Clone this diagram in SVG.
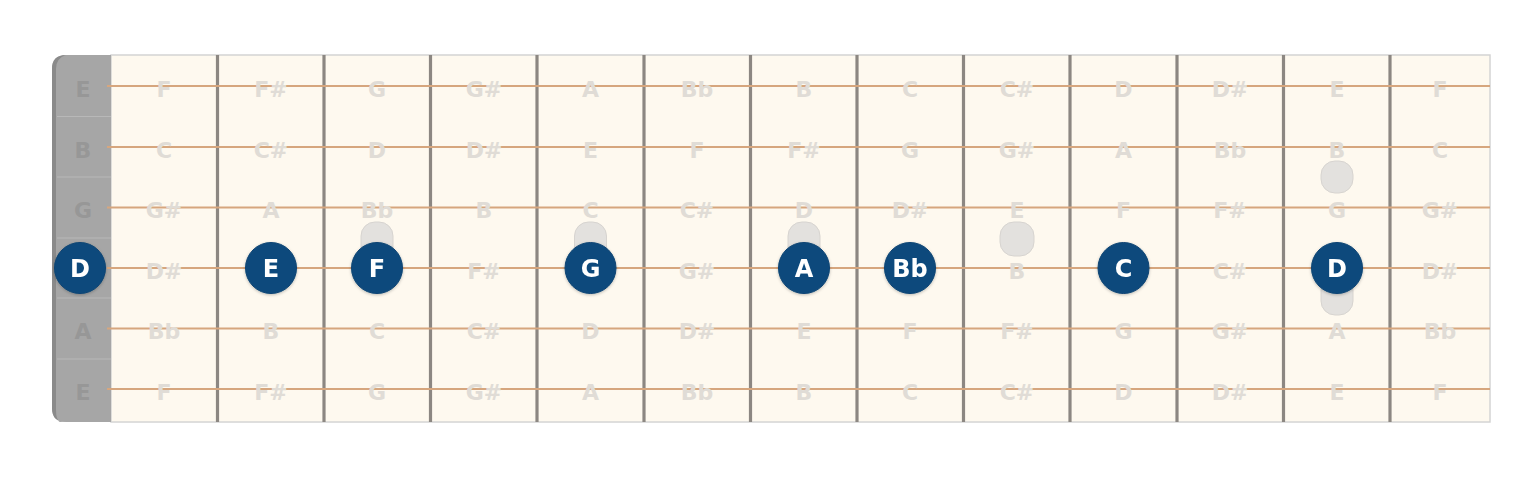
<svg xmlns="http://www.w3.org/2000/svg" width="1536" height="485" viewBox="0 0 1536 485">
<style>
.fret{stroke:#8c8782;stroke-width:3.2}
.str{stroke:#d6a67e;stroke-width:1.8}
.sep{stroke:#b8b8b8;stroke-width:1}
.nt{font-family:"DejaVu Sans",Verdana,sans-serif;font-weight:bold;font-size:22px;fill:#e0dcd6;text-anchor:middle;dominant-baseline:central}
.nut{font-family:"DejaVu Sans",Verdana,sans-serif;font-weight:bold;font-size:22px;fill:#979797;text-anchor:middle;dominant-baseline:central}
.ghost{fill:#e3e1de;stroke:#d7d4d0;stroke-width:1}
.dot{fill:#0b4a7c;stroke:#0a4373;stroke-width:1}
.lbl{font-family:"DejaVu Sans",Verdana,sans-serif;font-weight:bold;font-size:24px;fill:#ffffff;text-anchor:middle;dominant-baseline:central}
</style>
<defs>
<filter id="sh" x="-30%" y="-30%" width="160%" height="160%"><feDropShadow dx="0" dy="1" stdDeviation="1.5" flood-color="#000" flood-opacity="0.25"/></filter>
</defs>
<rect width="1536" height="485" fill="#ffffff"/>
<g id="board">
<rect x="111" y="55" width="1379" height="367" fill="#fef9ef" stroke="#d4d4d4" stroke-width="1.5"/>
<path d="M111 55 H66 Q52 55 52 69 V408 Q52 422 66 422 H111 Z" fill="#a6a6a6"/>
<path d="M66 55 Q52 55 52 69 V408 Q52 422 66 422 H60 Q56 420 56 410 V69 Q56 58 66 55 Z" fill="#8a8a8a"/>
<g class="sep">
<line x1="57" y1="116.5" x2="111" y2="116.5"/><line x1="57" y1="177" x2="111" y2="177"/><line x1="57" y1="238" x2="111" y2="238"/><line x1="57" y1="298" x2="111" y2="298"/><line x1="57" y1="359" x2="111" y2="359"/>
</g>
</g>
<g id="frets" class="fret">
<line x1="217.5" y1="55" x2="217.5" y2="422"/><line x1="324" y1="55" x2="324" y2="422"/><line x1="430.5" y1="55" x2="430.5" y2="422"/><line x1="537" y1="55" x2="537" y2="422"/><line x1="644" y1="55" x2="644" y2="422"/><line x1="750.5" y1="55" x2="750.5" y2="422"/><line x1="857" y1="55" x2="857" y2="422"/><line x1="963.5" y1="55" x2="963.5" y2="422"/><line x1="1070" y1="55" x2="1070" y2="422"/><line x1="1177" y1="55" x2="1177" y2="422"/><line x1="1283.5" y1="55" x2="1283.5" y2="422"/><line x1="1390" y1="55" x2="1390" y2="422"/>
</g>
<g id="strings" class="str">
<line x1="107" y1="86" x2="1490" y2="86"/><line x1="107" y1="147" x2="1490" y2="147"/><line x1="107" y1="207.5" x2="1490" y2="207.5"/><line x1="107" y1="268" x2="1490" y2="268"/><line x1="107" y1="328.5" x2="1490" y2="328.5"/><line x1="107" y1="389" x2="1490" y2="389"/>
</g>
<g id="nut-labels" class="nut">
<text x="83" y="89">E</text><text x="83" y="150">B</text><text x="83" y="210.5">G</text><text x="83" y="331.5">A</text><text x="83" y="392">E</text>
</g>
<g id="note-labels" class="nt">
<g id="s1"><text x="164" y="89">F</text><text x="271" y="89">F#</text><text x="377" y="89">G</text><text x="484" y="89">G#</text><text x="590.5" y="89">A</text><text x="697" y="89">Bb</text><text x="804" y="89">B</text><text x="910" y="89">C</text><text x="1017" y="89">C#</text><text x="1123.5" y="89">D</text><text x="1230" y="89">D#</text><text x="1337" y="89">E</text><text x="1440" y="89">F</text></g>
<g id="s2"><text x="164" y="150">C</text><text x="271" y="150">C#</text><text x="377" y="150">D</text><text x="484" y="150">D#</text><text x="590.5" y="150">E</text><text x="697" y="150">F</text><text x="804" y="150">F#</text><text x="910" y="150">G</text><text x="1017" y="150">G#</text><text x="1123.5" y="150">A</text><text x="1230" y="150">Bb</text><text x="1337" y="150">B</text><text x="1440" y="150">C</text></g>
<g id="s3"><text x="164" y="210.5">G#</text><text x="271" y="210.5">A</text><text x="377" y="210.5">Bb</text><text x="484" y="210.5">B</text><text x="590.5" y="210.5">C</text><text x="697" y="210.5">C#</text><text x="804" y="210.5">D</text><text x="910" y="210.5">D#</text><text x="1017" y="210.5">E</text><text x="1123.5" y="210.5">F</text><text x="1230" y="210.5">F#</text><text x="1337" y="210.5">G</text><text x="1440" y="210.5">G#</text></g>
<g id="s4"><text x="164" y="271">D#</text><text x="484" y="271">F#</text><text x="697" y="271">G#</text><text x="1017" y="271">B</text><text x="1230" y="271">C#</text><text x="1440" y="271">D#</text></g>
<g id="s5"><text x="164" y="331.5">Bb</text><text x="271" y="331.5">B</text><text x="377" y="331.5">C</text><text x="484" y="331.5">C#</text><text x="590.5" y="331.5">D</text><text x="697" y="331.5">D#</text><text x="804" y="331.5">E</text><text x="910" y="331.5">F</text><text x="1017" y="331.5">F#</text><text x="1123.5" y="331.5">G</text><text x="1230" y="331.5">G#</text><text x="1337" y="331.5">A</text><text x="1440" y="331.5">Bb</text></g>
<g id="s6"><text x="164" y="392">F</text><text x="271" y="392">F#</text><text x="377" y="392">G</text><text x="484" y="392">G#</text><text x="590.5" y="392">A</text><text x="697" y="392">Bb</text><text x="804" y="392">B</text><text x="910" y="392">C</text><text x="1017" y="392">C#</text><text x="1123.5" y="392">D</text><text x="1230" y="392">D#</text><text x="1337" y="392">E</text><text x="1440" y="392">F</text></g>
</g>
<g id="ghosts">
<rect class="ghost" x="361" y="222" width="32" height="40" rx="14"/>
<rect class="ghost" x="574.5" y="222" width="32" height="40" rx="14"/>
<rect class="ghost" x="788" y="222" width="32" height="40" rx="14"/>
<rect class="ghost" x="1000" y="222" width="34" height="34" rx="14"/>
<rect class="ghost" x="1321" y="161" width="32" height="32" rx="14"/>
<rect class="ghost" x="1321" y="276" width="32" height="39" rx="14"/>
</g>
<g id="node-D0" filter="url(#sh)"><circle class="dot" cx="80" cy="268" r="25.5"/><text class="lbl" x="80" y="269">D</text></g>
<g id="node-E" filter="url(#sh)"><circle class="dot" cx="271" cy="268" r="25.5"/><text class="lbl" x="271" y="269">E</text></g>
<g id="node-F" filter="url(#sh)"><circle class="dot" cx="377" cy="268" r="25.5"/><text class="lbl" x="377" y="269">F</text></g>
<g id="node-G" filter="url(#sh)"><circle class="dot" cx="590.5" cy="268" r="25.5"/><text class="lbl" x="590.5" y="269">G</text></g>
<g id="node-A" filter="url(#sh)"><circle class="dot" cx="804" cy="268" r="25.5"/><text class="lbl" x="804" y="269">A</text></g>
<g id="node-Bb" filter="url(#sh)"><circle class="dot" cx="910" cy="268" r="25.5"/><text class="lbl" x="910" y="269">Bb</text></g>
<g id="node-C" filter="url(#sh)"><circle class="dot" cx="1123.5" cy="268" r="25.5"/><text class="lbl" x="1123.5" y="269">C</text></g>
<g id="node-D12" filter="url(#sh)"><circle class="dot" cx="1337" cy="268" r="25.5"/><text class="lbl" x="1337" y="269">D</text></g>
<g id="connectors"/>
</svg>
